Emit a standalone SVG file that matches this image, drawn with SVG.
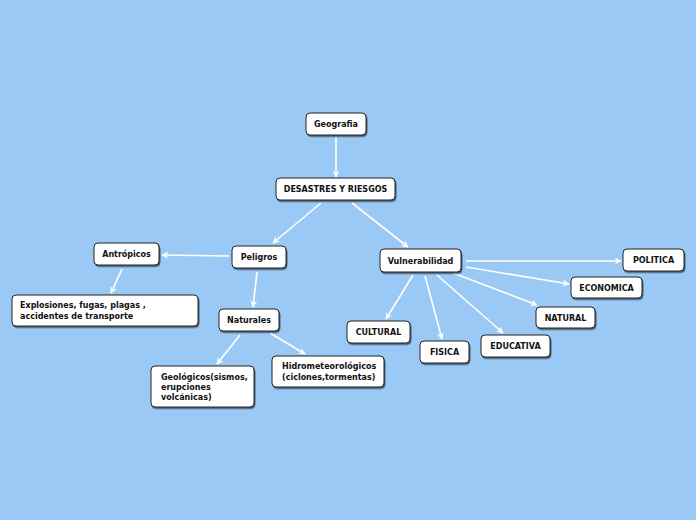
<svg xmlns="http://www.w3.org/2000/svg" width="696" height="520" viewBox="0 0 696 520">
<defs>
<marker id="ah" viewBox="0 0 10 10" refX="9" refY="5" markerWidth="7" markerHeight="7" markerUnits="userSpaceOnUse" orient="auto">
<path d="M0,0 L10,5 L0,10 L3,5 Z" fill="#ffffff"/>
</marker>
<filter id="sh" x="-10%" y="-10%" width="130%" height="140%">
<feDropShadow dx="1" dy="1.5" stdDeviation="0.6" flood-color="#000" flood-opacity="0.55"/>
</filter>
</defs>
<style>
.n rect{fill:#ffffff;stroke:#222;stroke-width:1;filter:url(#sh)}
.n text{font-family:"DejaVu Sans",Verdana,sans-serif;font-weight:bold;font-size:8px;fill:#111}
.c{text-anchor:middle}
#connectors line{stroke:#ffffff;stroke-width:1.6;marker-end:url(#ah)}
</style>
<rect width="696" height="520" fill="#9bc9f5"/>
<g id="connectors">
<line x1="336" y1="137" x2="336" y2="177"/>
<line x1="321" y1="203" x2="273" y2="243"/>
<line x1="352" y1="203" x2="408" y2="247"/>
<line x1="229" y1="256" x2="162" y2="255"/>
<line x1="122" y1="269" x2="111" y2="293"/>
<line x1="257" y1="272" x2="253" y2="307"/>
<line x1="240" y1="335" x2="217" y2="364"/>
<line x1="270" y1="333" x2="305" y2="354"/>
<line x1="466" y1="261" x2="621" y2="261"/>
<line x1="466" y1="267" x2="569" y2="284"/>
<line x1="453" y1="273" x2="537" y2="305"/>
<line x1="437" y1="275" x2="503" y2="333"/>
<line x1="425" y1="276" x2="442" y2="339"/>
<line x1="413" y1="275" x2="386" y2="319"/>
</g>
<g id="geografia" class="n"><rect x="306" y="113" width="60" height="22" rx="4"/><text class="c" x="336" y="127">Geografia</text></g>
<g id="desastres" class="n"><rect x="276" y="178" width="119" height="22" rx="4"/><text class="c" x="335.5" y="192">DESASTRES Y RIESGOS</text></g>
<g id="peligros" class="n"><rect x="232" y="246" width="54" height="22" rx="4"/><text class="c" x="259" y="260">Peligros</text></g>
<g id="antropicos" class="n"><rect x="94" y="243" width="65" height="22" rx="4"/><text class="c" x="126.5" y="257">Antrópicos</text></g>
<g id="explosiones" class="n"><rect x="12" y="295" width="186" height="31" rx="4"/><text x="20" y="308">Explosiones, fugas, plagas ,</text><text x="20" y="319">accidentes de transporte</text></g>
<g id="naturales" class="n"><rect x="219" y="309" width="60" height="22" rx="4"/><text class="c" x="249" y="323">Naturales</text></g>
<g id="geologicos" class="n"><rect x="151" y="366" width="103" height="41" rx="4"/><text x="161" y="380">Geológicos(sismos,</text><text x="161" y="390">erupciones</text><text x="161" y="400">volcánicas)</text></g>
<g id="hidro" class="n"><rect x="272" y="356" width="112" height="31" rx="4"/><text x="282" y="369">Hidrometeorológicos</text><text x="282" y="380">(ciclones,tormentas)</text></g>
<g id="vulnerabilidad" class="n"><rect x="380" y="249" width="81" height="23" rx="4"/><text class="c" x="420.5" y="263.5">Vulnerabilidad</text></g>
<g id="politica" class="n"><rect x="623" y="249" width="61" height="22" rx="4"/><text class="c" x="653.5" y="263">POLITICA</text></g>
<g id="economica" class="n"><rect x="571" y="277" width="71" height="21" rx="4"/><text class="c" x="606.5" y="290.5">ECONOMICA</text></g>
<g id="natural" class="n"><rect x="536" y="307" width="59" height="21" rx="4"/><text class="c" x="565.5" y="320.5">NATURAL</text></g>
<g id="educativa" class="n"><rect x="481" y="335" width="69" height="22" rx="4"/><text class="c" x="515.5" y="349">EDUCATIVA</text></g>
<g id="fisica" class="n"><rect x="420" y="341" width="49" height="22" rx="4"/><text class="c" x="444.5" y="355">FISICA</text></g>
<g id="cultural" class="n"><rect x="347" y="321" width="63" height="22" rx="4"/><text class="c" x="378.5" y="335">CULTURAL</text></g>
</svg>
